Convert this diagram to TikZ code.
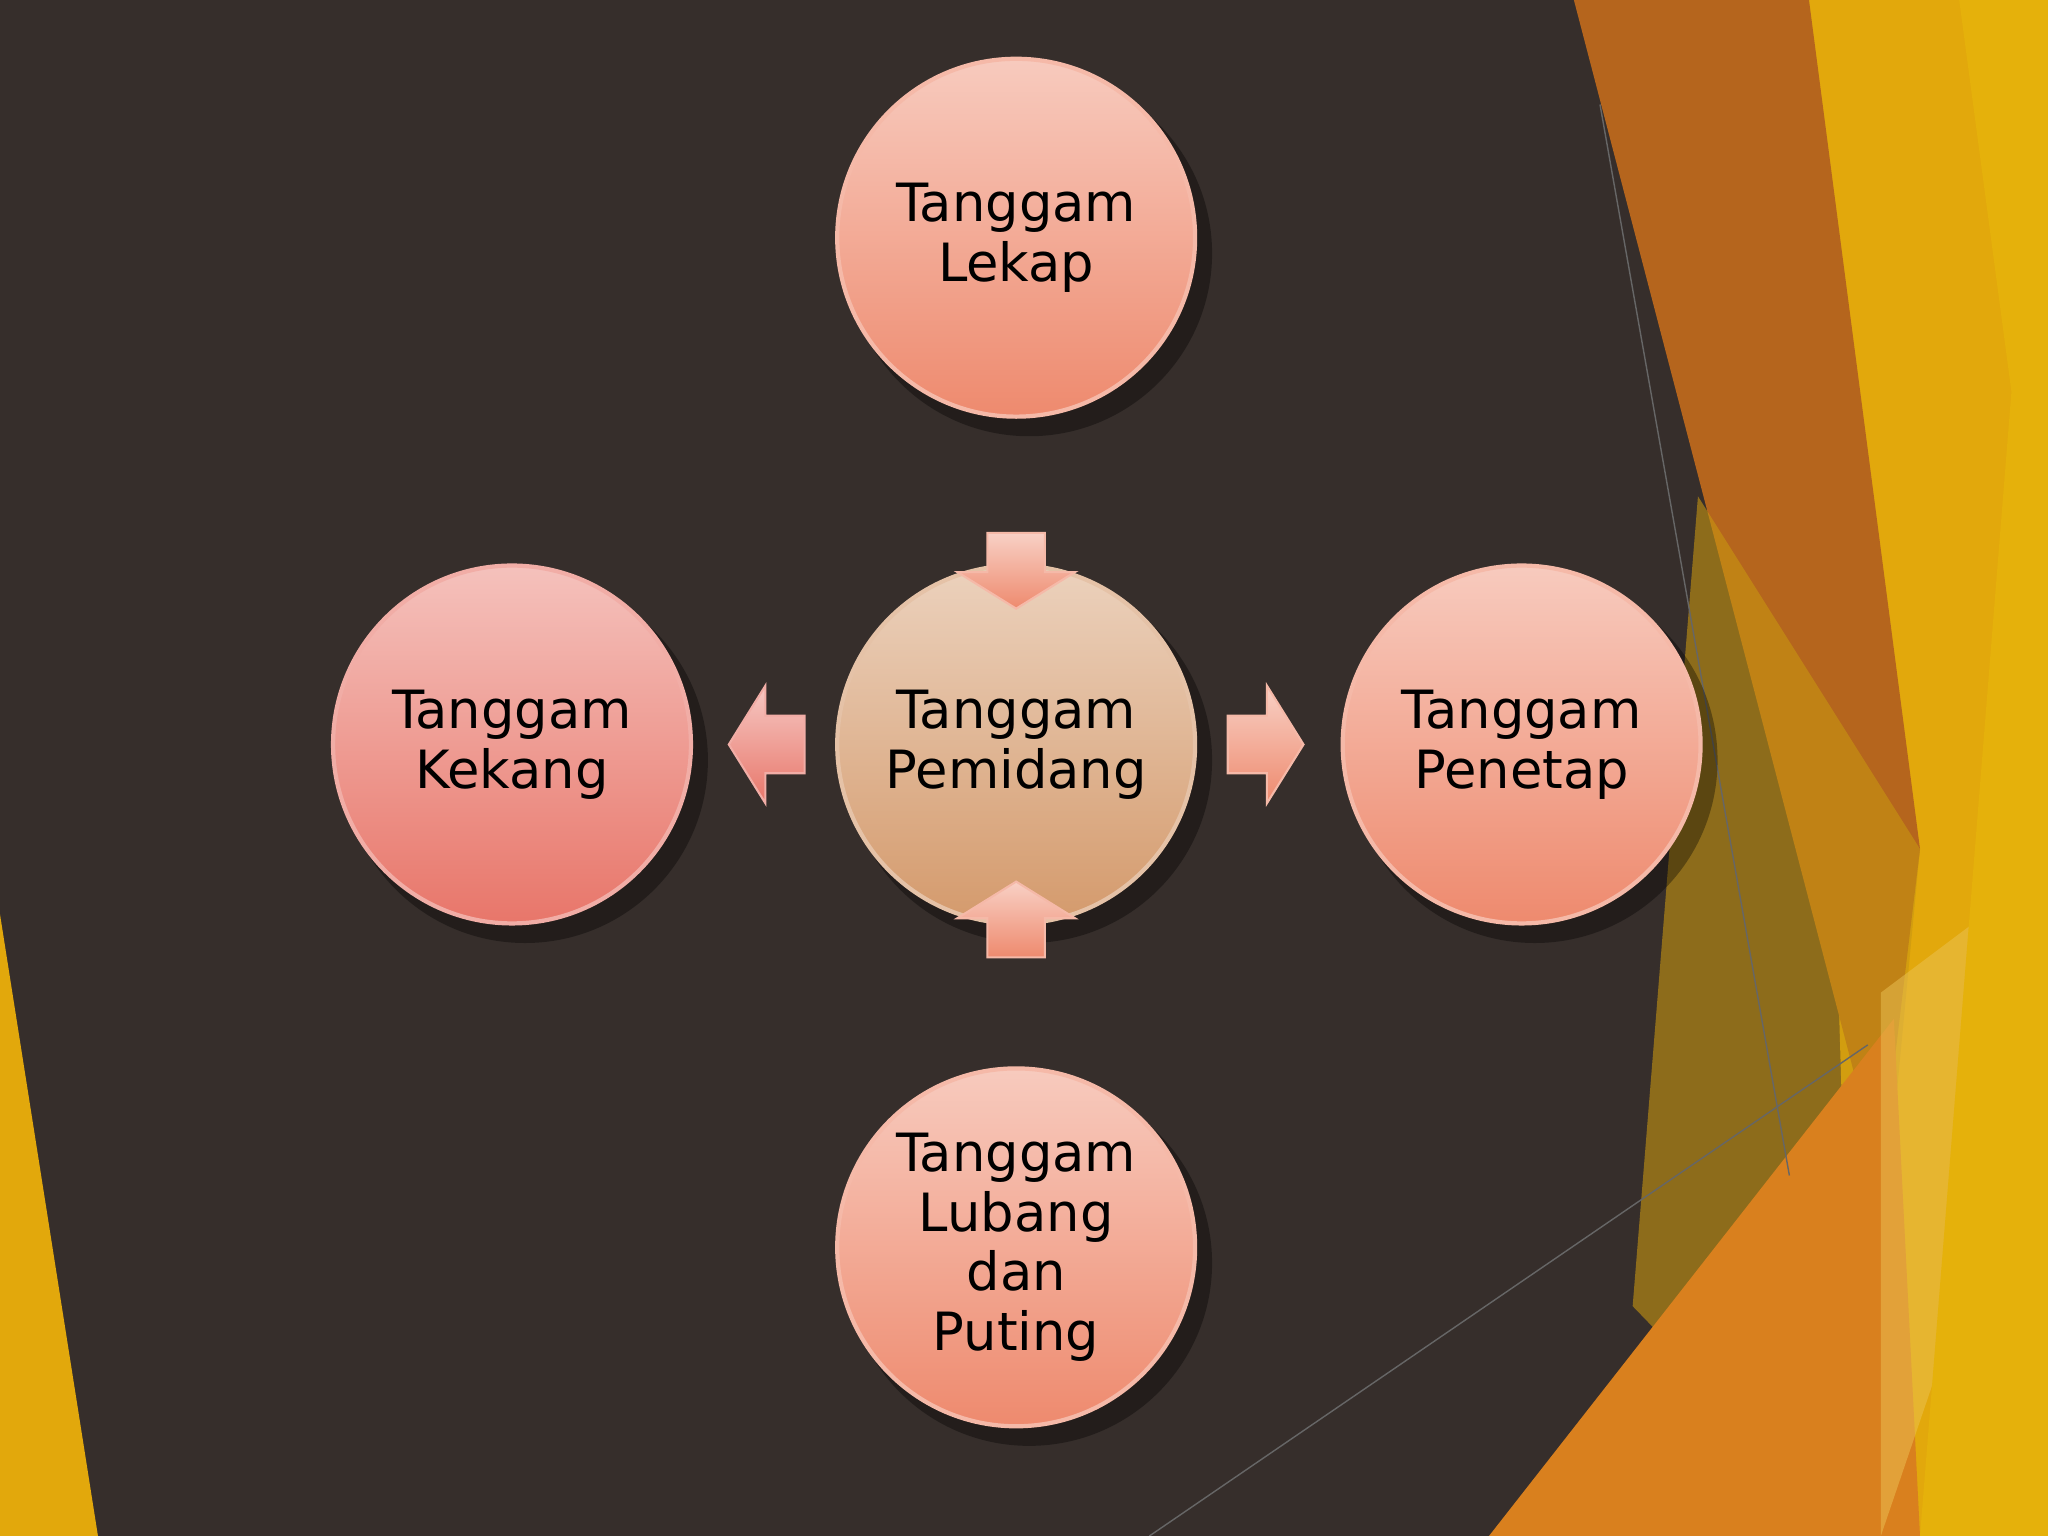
\documentclass[tikz,border=0pt]{standalone}
\usepackage{fontspec}
\setmainfont{DejaVu Sans}
\begin{document}
\begin{tikzpicture}[x=0.013061cm,y=-0.013061cm,
  circ/.style={circle,minimum size=274*0.013061cm,inner sep=0pt,align=center,font=\fontsize{15}{17}\selectfont,draw=#1!60!white,line width=1.2pt},
  arrowfill/.style={top color=#1!40!white,bottom color=#1,draw=#1!60!white,line width=0.6pt},
  pics/blockarrow/.style={code={
    \path[arrowfill=#1] (0,-22) -- (30,-22) -- (30,-45) -- (58,0) -- (30,45) -- (30,22) -- (0,22) -- cycle;}}]
\definecolor{bg}{HTML}{362E2B}
\definecolor{gold}{HTML}{E2A80C}
\definecolor{brn}{HTML}{B5651D}
\definecolor{org}{HTML}{D9801E}
\definecolor{salm}{HTML}{EE8A6E}
\definecolor{pinkb}{HTML}{E8766A}
\definecolor{tan}{HTML}{D49A6C}
\useasboundingbox (0,0) rectangle (1568,1176);
\fill[bg] (0,0) rectangle (1568,1176);
% right decorations
\fill[gold] (1385,0) -- (1568,0) -- (1568,1176) -- (1420,1176) -- cycle;
\fill[brn] (1205,0) -- (1385,0) -- (1470,650) -- (1440,900) -- cycle;
\fill[gold!85!bg,opacity=0.6] (1300,380) -- (1470,650) -- (1420,1176) -- (1250,1000) -- cycle;
\fill[org] (1140,1176) -- (1450,780) -- (1470,1176) -- cycle;
\fill[gold!70!white,opacity=0.5] (1440,760) -- (1520,700) -- (1500,1000) -- (1440,1176) -- cycle;
\fill[gold!90!yellow] (1500,0) -- (1568,0) -- (1568,1176) -- (1470,1176) -- (1540,300) -- cycle;
\draw[black!60,line width=0.4pt] (1225,80) -- (1370,900);
\draw[black!60,line width=0.4pt] (880,1176) -- (1430,800);
% left decoration
\fill[gold] (0,700) -- (75,1176) -- (0,1176) -- cycle;
% shadows
\foreach \p in {(778,182),(778,570),(392,570),(1165,570),(778,955)}
  \fill[black,opacity=0.35] \p ++(10,12) circle (140);
% circles
\node[circ=salm,top color=salm!45!white,bottom color=salm] (top) at (778,182) {Tanggam\\Lekap};
\node[circ=tan,top color=tan!45!white,bottom color=tan] (ctr) at (778,570) {Tanggam\\Pemidang};
\node[circ=pinkb,top color=pinkb!45!white,bottom color=pinkb] (lft) at (392,570) {Tanggam\\Kekang};
\node[circ=salm,top color=salm!45!white,bottom color=salm] (rgt) at (1165,570) {Tanggam\\Penetap};
\node[circ=salm,top color=salm!45!white,bottom color=salm] (bot) at (778,955) {Tanggam\\Lubang\\dan\\Puting};
% arrows
\pic[rotate=-90] at (778,408) {blockarrow=salm};
\pic[rotate=90] at (778,733) {blockarrow=salm};
\pic at (940,570) {blockarrow=salm};
\pic[rotate=180] at (616,570) {blockarrow=pinkb};
\end{tikzpicture}
\end{document}
